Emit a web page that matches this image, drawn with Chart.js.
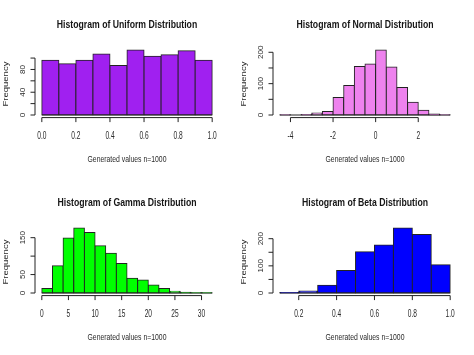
<!DOCTYPE html>
<html><head><meta charset="utf-8">
<script src="https://cdn.jsdelivr.net/npm/chart.js@4.4.1/dist/chart.umd.min.js"></script>
<style>
html,body{margin:0;padding:0;background:#fff;width:474px;height:355px;overflow:hidden;}
canvas{position:absolute;}
</style></head><body>
<canvas id="c1" width="237" height="178" style="left:0;top:0"></canvas>
<canvas id="c2" width="236" height="178" style="left:238px;top:0"></canvas>
<canvas id="c3" width="237" height="178" style="left:0;top:178px"></canvas>
<canvas id="c4" width="236" height="178" style="left:238px;top:178px"></canvas>
<script>
// ---- data ----
const uniformBreaks = [0.0,0.1,0.2,0.3,0.4,0.5,0.6,0.7,0.8,0.9,1.0];
const uniformCounts = [96,90,96,107,87,114,103,106,113,96];
const uniformXTicks = [0,0.2,0.4,0.6,0.8,1.0];
const uniformXLabels = ['0.0','0.2','0.4','0.6','0.8','1.0'];
const uniformYTicks = [0,20,40,60,80,100];
const uniformYLabels = ['0','','40','','80',''];

const normalBreaks = [-4.5,-4,-3.5,-3,-2.5,-2,-1.5,-1,-0.5,0,0.5,1,1.5,2,2.5,3,3.5];
const normalCounts = [1,0,2,6,11,56,94,155,163,207,153,88,41,15,3,1];
const normalXTicks = [-4,-2,0,2];
const normalXLabels = ['-4','-2','0','2'];
const normalYTicks = [0,50,100,150,200];
const normalYLabels = ['0','','100','','200'];

const gammaBreaks = [0,2,4,6,8,10,12,14,16,18,20,22,24,26,28,30,32];
const gammaCounts = [12,74,149,176,164,128,108,80,40,35,22,12,5,2,1,1];
const gammaXTicks = [0,5,10,15,20,25,30];
const gammaXLabels = ['0','5','10','15','20','25','30'];
const gammaYTicks = [0,50,100,150];
const gammaYLabels = ['0','50','','150'];

const betaBreaks = [0.1,0.2,0.3,0.4,0.5,0.6,0.7,0.8,0.9,1.0];
const betaCounts = [2,7,29,83,152,177,239,215,104];
const betaXTicks = [0.2,0.4,0.6,0.8,1.0];
const betaXLabels = ['0.2','0.4','0.6','0.8','1.0'];
const betaYTicks = [0,50,100,150,200];
const betaYLabels = ['0','','100','','200'];

const titles = ['Histogram of Uniform Distribution','Histogram of Normal Distribution',
                'Histogram of Gamma Distribution','Histogram of Beta Distribution'];
const xAxisTitle = 'Generated values n=1000';
const yAxisTitle = 'Frequency';
const colors = ['#A020F0','#EE82EE','#00FF00','#0000FF'];

// ---- drawing helpers ----
const FONT = '"Liberation Sans", Arial, Helvetica, sans-serif';
function txt(ctx, s, x, y, font, sx, rot, color) {
  ctx.save();
  ctx.translate(x, y);
  ctx.scale(sx, 1);
  if (rot) ctx.rotate(-Math.PI / 2);
  ctx.font = font;
  ctx.fillStyle = color;
  ctx.textAlign = 'center';
  ctx.textBaseline = 'middle';
  ctx.fillText(s, 0, 0);
  ctx.restore();
}

const rAxes = {
  id: 'rAxes',
  afterDatasetsDraw(chart, args, o) {
    const ctx = chart.ctx, xs = chart.scales.x, ys = chart.scales.y, a = chart.chartArea;
    ctx.save();
    ctx.strokeStyle = '#222';
    ctx.lineWidth = 1;
    // zero-height bar outlines along the baseline
    const yb = ys.getPixelForValue(0);
    ctx.beginPath();
    ctx.moveTo(xs.getPixelForValue(o.breaks[0]), yb);
    ctx.lineTo(xs.getPixelForValue(o.breaks[o.breaks.length - 1]), yb);
    ctx.stroke();
    // x axis
    const xa = a.bottom;
    ctx.beginPath();
    ctx.moveTo(xs.getPixelForValue(o.xTicks[0]), xa);
    ctx.lineTo(xs.getPixelForValue(o.xTicks[o.xTicks.length - 1]), xa);
    o.xTicks.forEach(v => { const p = xs.getPixelForValue(v); ctx.moveTo(p, xa); ctx.lineTo(p, xa + 4.5); });
    // y axis
    const ya = a.left;
    ctx.moveTo(ya, ys.getPixelForValue(o.yTicks[0]));
    ctx.lineTo(ya, ys.getPixelForValue(o.yTicks[o.yTicks.length - 1]));
    o.yTicks.forEach(v => { const p = ys.getPixelForValue(v); ctx.moveTo(ya, p); ctx.lineTo(ya - 4.5, p); });
    ctx.stroke();
    ctx.restore();
    // tick labels
    o.xTicks.forEach((v, i) => txt(ctx, o.xLabels[i], xs.getPixelForValue(v), xa + 19, '10px ' + FONT, 0.66, false, '#2a2a2a'));
    o.yTicks.forEach((v, i) => { if (o.yLabels[i]) txt(ctx, o.yLabels[i], ya - 12.3, ys.getPixelForValue(v), '8px ' + FONT, 0.85, true, '#2a2a2a'); });
    const cx = (a.left + a.right) / 2;
    txt(ctx, o.title, cx, a.top - 22.5, 'bold 11px ' + FONT, 0.79, false, '#151515');
    txt(ctx, o.xTitle, cx, a.bottom + 41.7, '9px ' + FONT, 0.76, false, '#2a2a2a');
    txt(ctx, o.yTitle, 6, (a.top + a.bottom) / 2 + 1.5, '9.5px ' + FONT, 0.78, true, '#2a2a2a');
  }
};

function makeChart(id, breaks, counts, color, xTicks, xLabels, yTicks, yLabels, title) {
  const el = document.getElementById(id);
  const W = el.width, H = el.height;
  const data = counts.map((c, i) => ({ x: (breaks[i] + breaks[i + 1]) / 2, y: c }));
  const x0 = breaks[0], x1 = breaks[breaks.length - 1], xe = 0.04 * (x1 - x0);
  const ymax = Math.max(...counts);
  return new Chart(el, {
    type: 'bar',
    data: { datasets: [{
      data, backgroundColor: color, borderColor: '#222', borderWidth: 1,
      borderSkipped: false, inflateAmount: 0.5, barPercentage: 1, categoryPercentage: 1
    }] },
    options: {
      responsive: false, animation: false, devicePixelRatio: 1,
      layout: { padding: { left: 35, right: W - 219, top: 47.5, bottom: H - 117.6 } },
      plugins: {
        legend: { display: false }, tooltip: { enabled: false },
        rAxes: { breaks, xTicks, xLabels, yTicks, yLabels, title, xTitle: xAxisTitle, yTitle: yAxisTitle }
      },
      scales: {
        x: { type: 'linear', display: false, offset: false, min: x0 - xe, max: x1 + xe,
             afterBuildTicks: s => { s.ticks = xTicks.map(v => ({ value: v })); } },
        y: { type: 'linear', display: false, min: -0.04 * ymax, max: 1.04 * ymax }
      }
    },
    plugins: [rAxes]
  });
}

makeChart('c1', uniformBreaks, uniformCounts, colors[0], uniformXTicks, uniformXLabels, uniformYTicks, uniformYLabels, titles[0]);
makeChart('c2', normalBreaks, normalCounts, colors[1], normalXTicks, normalXLabels, normalYTicks, normalYLabels, titles[1]);
makeChart('c3', gammaBreaks, gammaCounts, colors[2], gammaXTicks, gammaXLabels, gammaYTicks, gammaYLabels, titles[2]);
makeChart('c4', betaBreaks, betaCounts, colors[3], betaXTicks, betaXLabels, betaYTicks, betaYLabels, titles[3]);
</script>
</body></html>
